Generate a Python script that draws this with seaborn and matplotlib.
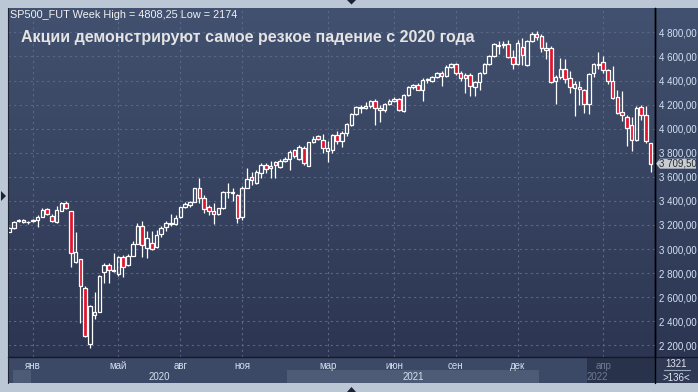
import numpy as np
import pandas as pd
import matplotlib
matplotlib.use("Agg")
from matplotlib import pyplot as plt
from matplotlib.colors import LinearSegmentedColormap
from matplotlib.patches import Rectangle, Polygon
import seaborn as sns

# weekly candles, SP500 futures
opens = [3145, 3172, 3232, 3243, 3222, 3234, 3242, 3270, 3333, 3275, 3225, 3320, 3386, 3314, 2894, 2914,
         2675, 2214, 2456, 2481, 2811, 2867, 2819, 2792, 2936, 2867, 2944, 3042, 3189, 3006, 3047, 3014,
         3122, 3180, 3212, 3206, 3269, 3347, 3367, 3394, 3506, 3422, 3347, 3314, 3289, 3339, 3470, 3478,
         3450, 3269, 3511, 3600, 3553, 3636, 3697, 3672, 3720, 3681, 3728, 3750, 3820, 3750, 3839, 3694,
         3890, 3942, 3908, 3811, 3825, 3950, 3894, 3964, 4033, 4122, 4175, 4172, 4186, 4233, 4172, 4158,
         4208, 4233, 4250, 4150, 4278, 4347, 4361, 4322, 4405, 4400, 4430, 4464, 4436, 4511, 4539, 4464,
         4450, 4450, 4347, 4389, 4464, 4539, 4603, 4686, 4692, 4706, 4594, 4539, 4678, 4533, 4728, 4789,
         4770, 4672, 4672, 4394, 4430, 4497, 4422, 4339, 4347, 4319, 4208, 4464, 4532, 4556, 4485, 4394,
         4264, 4136, 4100, 4030, 3908, 4178, 4117, 3881]
highs = [3180, 3230, 3252, 3250, 3230, 3250, 3283, 3345, 3345, 3292, 3360, 3392, 3403, 3320, 3144, 2920,
         2690, 2539, 2639, 2785, 2886, 2885, 2964, 2940, 2950, 2960, 3068, 3220, 3233, 3150, 3150, 3160,
         3194, 3233, 3290, 3283, 3352, 3390, 3400, 3510, 3589, 3450, 3370, 3386, 3345, 3480, 3547, 3511,
         3455, 3525, 3672, 3639, 3658, 3714, 3714, 3728, 3733, 3745, 3761, 3825, 3830, 3865, 3860, 3890,
         3940, 3950, 3960, 3895, 3960, 3980, 3985, 4045, 4130, 4190, 4195, 4220, 4240, 4245, 4200, 4215,
         4245, 4260, 4258, 4285, 4355, 4372, 4380, 4420, 4420, 4440, 4470, 4480, 4530, 4550, 4545, 4480,
         4465, 4460, 4395, 4470, 4545, 4610, 4712, 4728, 4728, 4740, 4650, 4740, 4750, 4735, 4800, 4808,
         4790, 4720, 4690, 4450, 4589, 4580, 4480, 4400, 4400, 4330, 4460, 4550, 4639, 4600, 4500, 4519,
         4325, 4311, 4110, 4095, 4190, 4200, 4186, 3884]
lows = [3140, 3165, 3222, 3220, 3212, 3226, 3180, 3265, 3283, 3222, 3218, 3315, 3330, 2853, 2880, 2386,
        2269, 2174, 2422, 2475, 2714, 2715, 2810, 2775, 2764, 2860, 2940, 3038, 2930, 2922, 2990, 3010,
        3103, 3150, 3190, 3200, 3262, 3340, 3350, 3390, 3380, 3300, 3283, 3205, 3280, 3330, 3428, 3400,
        3219, 3242, 3505, 3533, 3540, 3594, 3628, 3594, 3594, 3670, 3720, 3653, 3760, 3740, 3700, 3690,
        3880, 3905, 3800, 3722, 3800, 3870, 3850, 3940, 4025, 4110, 4130, 4160, 4170, 4028, 4053, 4140,
        4195, 4220, 4150, 4140, 4270, 4330, 4318, 4228, 4380, 4385, 4420, 4353, 4430, 4505, 4450, 4400,
        4297, 4270, 4270, 4320, 4455, 4530, 4595, 4620, 4670, 4585, 4500, 4530, 4533, 4520, 4720, 4740,
        4640, 4580, 4380, 4208, 4415, 4380, 4300, 4103, 4200, 4130, 4120, 4430, 4500, 4460, 4370, 4250,
        4119, 4065, 3853, 3811, 3900, 4070, 3880, 3644]
closes = [3172, 3228, 3245, 3226, 3226, 3240, 3267, 3325, 3290, 3233, 3325, 3386, 3338, 2964, 2972, 2697,
          2280, 2525, 2481, 2780, 2867, 2830, 2828, 2930, 2847, 2944, 3042, 3189, 3033, 3089, 2997, 3117,
          3172, 3217, 3216, 3261, 3347, 3375, 3394, 3508, 3428, 3330, 3317, 3292, 3339, 3472, 3478, 3466,
          3261, 3506, 3583, 3572, 3642, 3697, 3667, 3692, 3697, 3733, 3750, 3805, 3770, 3847, 3714, 3886,
          3917, 3917, 3839, 3839, 3950, 3894, 3964, 4039, 4122, 4180, 4180, 4186, 4233, 4172, 4158, 4208,
          4233, 4250, 4158, 4278, 4347, 4367, 4322, 4408, 4410, 4430, 4464, 4442, 4514, 4539, 4464, 4422,
          4422, 4353, 4389, 4464, 4539, 4603, 4700, 4692, 4706, 4594, 4539, 4714, 4611, 4728, 4789, 4764,
          4672, 4656, 4389, 4430, 4497, 4414, 4347, 4375, 4330, 4208, 4456, 4539, 4539, 4490, 4394, 4256,
          4131, 4110, 4010, 3908, 4170, 4117, 3894, 3709.5]

month_idx = [5, 23, 36, 49, 67, 81, 94, 107, 125]
month_labels = ['янв', 'май', 'авг', 'ноя', 'мар', 'июн', 'сен', 'дек', 'апр']
year_edges = [4.5, 58.5, 111.5]
year_labels = ['2020', '2021', '2022']
y_ticks = list(range(2200, 4801, 200))

title = 'Акции демонстрируют самое резкое падение с 2020 года'
header = 'SP500_FUT Week High = 4808,25 Low = 2174'

W, H = 698, 392
XMIN, XMAX = -0.25, 135.9
YMIN, YMAX = 2103, 5003


def rect(x0, y0, x1, y1):
    # pixel box (top-left origin) -> figure fraction
    return [x0 / W, 1 - y1 / H, (x1 - x0) / W, (y1 - y0) / H]


def ru(v):
    return f"{v:,.2f}".replace(',', ' ').replace('.', ',')


df = pd.DataFrame({'open': opens, 'high': highs, 'low': lows, 'close': closes})
df['i'] = np.arange(len(df))
df['up'] = df['close'] >= df['open']
df['top'] = df[['open', 'close']].max(axis=1)
df['bot'] = df[['open', 'close']].min(axis=1)

sns.set_style('dark')
plt.rcParams['font.family'] = ['Liberation Sans', 'DejaVu Sans']

fig = plt.figure(figsize=(6.98, 3.92), dpi=100, facecolor='#bcc7d6')

# gradient background of chart + price panel
bg = fig.add_axes(rect(8, 8, 698, 357))
cmap = LinearSegmentedColormap.from_list('bg', ['#42516f', '#2c3652'])
bg.imshow(np.linspace(0, 1, 256).reshape(-1, 1), cmap=cmap, aspect='auto', extent=[0, 1, 0, 1])
bg.axis('off')

ax = fig.add_axes(rect(8, 8, 655, 357))
ax.set_facecolor('none')
ax.set_xlim(XMIN, XMAX)
ax.set_ylim(YMIN, YMAX)

ax.set_yticks(y_ticks)
ax.set_yticklabels([ru(v) for v in y_ticks])
ax.set_xticks(month_idx)
ax.set_xticklabels([])
ax.yaxis.tick_right()
ax.tick_params(axis='y', length=0, pad=3, labelsize=7, labelcolor='#d3e1f3')
ax.tick_params(axis='x', length=0)
ax.grid(True, color='#5a6887', ls=(0, (2, 3)), lw=0.8)
for s in ['top', 'left']:
    ax.spines[s].set_visible(False)
ax.spines['right'].set_color('black')
ax.spines['bottom'].set_color('#151a26')
ax.spines['right'].set_linewidth(1)

# candles
ax.vlines(df['i'], df['top'], df['high'], color='white', lw=0.9, zorder=3)
ax.vlines(df['i'], df['low'], df['bot'], color='white', lw=0.9, zorder=3)
up = df[df['up']]
dn = df[~df['up']]
ax.bar(up['i'], up['top'] - up['bot'], bottom=up['bot'], width=0.74,
       facecolor='none', edgecolor='white', lw=0.9, zorder=4)
ax.bar(dn['i'], dn['top'] - dn['bot'], bottom=dn['bot'], width=0.74,
       facecolor='#e0142d', edgecolor='white', lw=0.9, zorder=4)

# bottom date bar
bx = fig.add_axes(rect(8, 357, 655, 383))
bx.set_xlim(XMIN, XMAX)
bx.set_ylim(0, 1)
bx.set_facecolor('#3c4966')
bx.set_xticks([])
bx.set_yticks([])
for s in bx.spines.values():
    s.set_visible(False)
bx.add_patch(Rectangle((0.75, 0), year_edges[0] - 0.75, 0.5, color='#4e5b77', lw=0))
bx.add_patch(Rectangle((year_edges[1], 0), year_edges[2] - year_edges[1], 0.5, color='#4e5b77', lw=0))
bx.add_patch(Rectangle((121.5, 0), XMAX - 121.5, 1, color='#28324b', lw=0))
for m, lab in zip(month_idx, month_labels):
    c = '#6f7b92' if m > 121.5 else '#d5e0ee'
    bx.text(m, 0.66, lab, ha='center', va='center', fontsize=7, color=c)
year_centers = [(year_edges[0] + year_edges[1]) / 2, (year_edges[1] + year_edges[2]) / 2,
                (year_edges[2] + XMAX) / 2]
for xc, lab in zip(year_centers, year_labels):
    c = '#6f7b92' if xc > 121.5 else '#d5e0ee'
    bx.text(xc, 0.23, lab, ha='center', va='center', fontsize=7, color=c)

# corner panel
cx = fig.add_axes(rect(655, 357, 698, 383))
cx.set_facecolor('#2f3954')
cx.set_xlim(0, 1)
cx.set_ylim(0, 1)
cx.set_xticks([])
cx.set_yticks([])
for s in cx.spines.values():
    s.set_visible(False)
cx.text(0.5, 0.74, '1321', ha='center', va='center', fontsize=7, color='#dfe6f0')
cx.plot([0.2, 0.82], [0.5, 0.5], color='#9aa6ba', lw=0.8)
cx.text(0.5, 0.2, '>136<', ha='center', va='center', fontsize=7, color='#dfe6f0')

# overlay in pixel coords
ov = fig.add_axes([0, 0, 1, 1], zorder=10)
ov.set_xlim(0, W)
ov.set_ylim(H, 0)
ov.axis('off')
ov.plot([8, 698], [357, 357], color='#151a26', lw=1)
ov.plot([655, 655], [8, 383], color='black', lw=1)
ov.plot([8, 8], [8, 383], color='#1e2535', lw=0.8)

# last price marker
y_last = H - ax.transData.transform((0, closes[-1]))[1]
ov.add_patch(Polygon([(656, y_last), (660, y_last - 5), (696, y_last - 5), (696, y_last + 5),
                      (660, y_last + 5)], closed=True, color='#c8ccd3', lw=0))
ov.text(678, y_last + 0.3, ru(closes[-1]), ha='center', va='center', fontsize=7, color='#2a2a2a')

# small arrows of the frame
ov.add_patch(Polygon([(347, 0), (356, 0), (351.5, 4.5)], color='#1b2236', lw=0))
ov.add_patch(Polygon([(347, 392), (356, 392), (351.5, 387)], color='#1b2236', lw=0))
ov.add_patch(Polygon([(1, 191), (1, 201), (6, 196)], color='#1b2236', lw=0))

ov.text(10, 15, header, ha='left', va='center', fontsize=7.8, color='#f2f2f2')
ov.text(21, 37, title, ha='left', va='center', fontsize=11.5, fontweight='bold', color='#e4e4e4')

fig.savefig('out.png', dpi=100, facecolor=fig.get_facecolor())
